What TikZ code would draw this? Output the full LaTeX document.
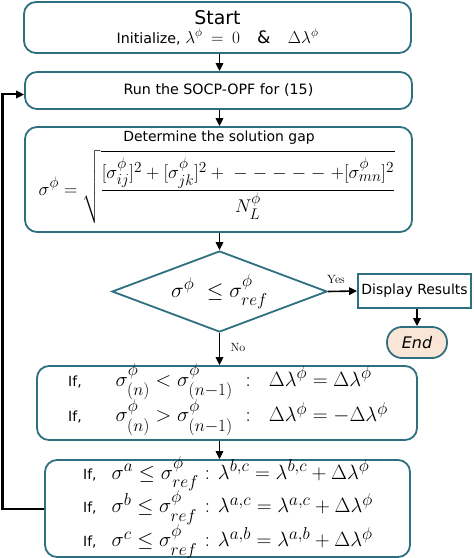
\RequirePackage{fix-cm}
\documentclass[tikz,border=0pt]{standalone}
\usepackage{fontspec}
\setsansfont{DejaVu Sans}
\usepackage{amsmath}
\usetikzlibrary{shapes.geometric,arrows.meta}
\DeclareMathSizes{18.5}{18.5}{15.4}{12.8}
\DeclareMathSizes{20.74}{20.74}{17.28}{13}
\DeclareMathSizes{21.5}{21.5}{17.28}{13}
\definecolor{tealb}{RGB}{46,112,128}
\definecolor{peach}{RGB}{251,229,214}
\newcommand{\condlbl}{{\sffamily\fontsize{14}{16}\selectfont If,}}
\begin{document}
\begin{tikzpicture}[x=1bp,y=-1bp,
  box/.style={draw=tealb, line width=1.8bp, rounded corners=12bp, inner sep=0pt, align=center, font=\sffamily\fontsize{14.3}{17}\selectfont},
  plainbox/.style={draw=tealb, line width=1.8bp, inner sep=0pt, font=\sffamily\fontsize{14}{17}\selectfont},
  arr/.style={-{Triangle[length=8bp,width=7.5bp]}, line width=1.6bp},
  lab/.style={font=\rmfamily\fontsize{12}{14}\selectfont, inner sep=0pt}]
\useasboundingbox (0,0) rectangle (474,558);

% Start
\node[box, minimum width=387bp, minimum height=51bp] (start) at (217.5,27.5)
  {{\fontsize{19}{21}\selectfont Start}\\[2bp]
   {\fontsize{14.3}{17}\selectfont Initialize,}\ {\fontsize{17.28}{19}\selectfont$\lambda^{\phi} \:=\: 0$\quad\&\quad$\Delta\lambda^{\phi}$}};

% Run
\node[box, minimum width=387bp, minimum height=37bp] (run) at (218.5,90.5)
  {Run the SOCP-OPF for (15)};

% Gap
\node[box, minimum width=387bp, minimum height=105bp] (gap) at (218.5,179.5) {};
\node[font=\sffamily\fontsize{14}{16}\selectfont, inner sep=0pt] (gaptitle) at (219,138) {Determine the solution gap};
\node[inner sep=0pt, font=\fontsize{18.5}{22}\selectfont] (gapf) at (217,187)
  {$\displaystyle \sigma^{\phi} = \sqrt{\frac{[\sigma^{\phi}_{ij}]^2+[\sigma^{\phi}_{jk}]^2+\;{-}\;{-}\;{-}\;{-}\;{-}\;{+}[\sigma^{\phi}_{mn}]^2}{N^{\phi}_{L}}}$};

% Decision
\node[draw=tealb, line width=1.8bp, diamond, aspect=2.65, minimum width=215bp, minimum height=81bp, inner sep=0pt, font=\fontsize{21.5}{24}\selectfont] (dec) at (219.5,291.5)
  {$\sigma^{\phi}\ \le\sigma^{\phi}_{ref}$};

% Display / End
\node[plainbox, minimum width=113bp, minimum height=34bp] (disp) at (414.5,291) {Display Results};
\node[draw=tealb, line width=1.8bp, fill=peach, rounded corners=15bp, minimum width=60bp, minimum height=31bp, inner sep=0pt, font=\sffamily\itshape\fontsize{16}{18}\selectfont] (end) at (417,342.5) {End};

% Update box 1
\node[box, minimum width=380bp, minimum height=74bp] (upd) at (227,403) {};
\node[inner sep=0pt, font=\fontsize{20.74}{26}\selectfont] (updtxt) at (228,399.5)
  {\begin{tabular}{@{}l@{\hspace{34bp}}l@{\hspace{13bp}}c@{\hspace{18bp}}l@{}}
   \condlbl & $\sigma^{\phi}_{(n)} < \sigma^{\phi}_{(n-1)}$ & $:$ & $\Delta\lambda^{\phi} = \Delta\lambda^{\phi}$\\
   \condlbl & $\sigma^{\phi}_{(n)} > \sigma^{\phi}_{(n-1)}$ & $:$ & $\Delta\lambda^{\phi} = -\Delta\lambda^{\phi}$
   \end{tabular}};

% Update box 2
\node[box, minimum width=365bp, minimum height=97bp] (upd2) at (227.5,508.5) {};
\node[inner sep=0pt, font=\fontsize{20.74}{27.5}\selectfont] (upd2txt) at (228,507.5)
  {\begin{tabular}{@{}l@{\hspace{15bp}}l@{\hspace{6bp}}c@{\hspace{8bp}}l@{}}
   \condlbl & $\sigma^{a} \le \sigma^{\phi}_{ref}$ & $:$ & $\lambda^{b,c} = \lambda^{b,c} + \Delta\lambda^{\phi}$\\
   \condlbl & $\sigma^{b} \le \sigma^{\phi}_{ref}$ & $:$ & $\lambda^{a,c} = \lambda^{a,c} + \Delta\lambda^{\phi}$\\
   \condlbl & $\sigma^{c} \le \sigma^{\phi}_{ref}$ & $:$ & $\lambda^{a,b} = \lambda^{a,b} + \Delta\lambda^{\phi}$
   \end{tabular}};

% Labels
\node[lab] (yes) at (336,279) {Yes};
\node[lab] (no) at (238,347) {No};

% Arrows
\draw[arr] (start.south -| dec) -- (run.north -| dec);
\draw[arr] (run.south -| dec) -- (gap.north -| dec);
\draw[arr] (gap.south -| dec) -- (dec.north);
\draw[arr] (dec.east) -- (disp.west);
\draw[arr] (disp.south -| end) -- (end.north);
\draw[arr] (dec.south) -- (dec.south |- upd.north);
\draw[arr] (upd.south -| dec) -- (upd2.north -| dec);

% Feedback
\coordinate (fb) at (2.5,300);
\draw[arr, line width=2bp] (upd2.west) -- (upd2.west -| fb) -- ([yshift=-4bp]run.west -| fb) -- ([yshift=-4bp]run.west);
\end{tikzpicture}
\end{document}
